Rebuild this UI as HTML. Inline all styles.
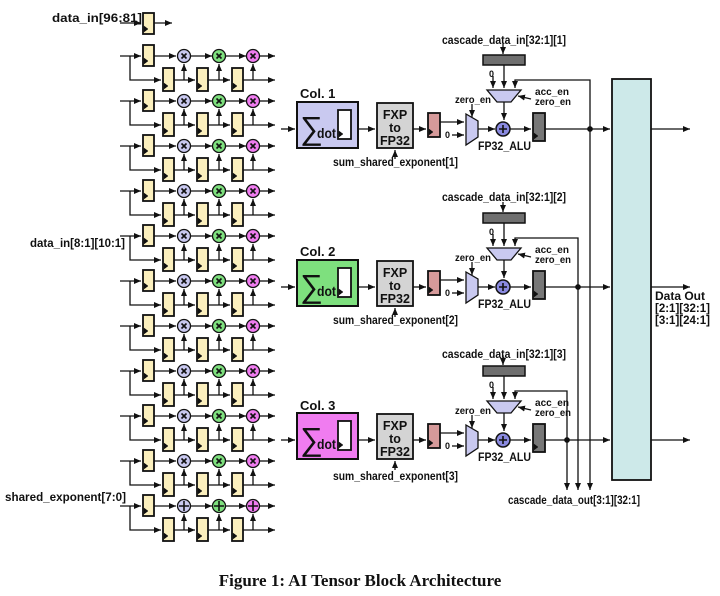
<!DOCTYPE html>
<html><head><meta charset="utf-8"><style>
html,body{margin:0;padding:0;background:#fff;}
svg{display:block;}
text{font-family:"Liberation Sans",sans-serif;fill:#111;}
.l{font-size:11.5px;font-weight:bold;}
.b{font-weight:bold;}
</style></head><body>
<svg id="s" width="720" height="596" viewBox="0 0 720 596" xmlns="http://www.w3.org/2000/svg">
<defs>
<marker id="a" markerWidth="8" markerHeight="8" refX="7" refY="3" orient="auto" markerUnits="userSpaceOnUse"><path d="M0,0 L7,3 L0,6 z" fill="#111"/></marker>
</defs>
<g id="g" stroke="#111" stroke-width="1.3" fill="none"></g>
<text x="52" y="22" class="l" textLength="90" lengthAdjust="spacingAndGlyphs">data_in[96:81]</text>
<text x="30" y="247" class="l" textLength="95" lengthAdjust="spacingAndGlyphs">data_in[8:1][10:1]</text>
<text x="5" y="501" class="l" textLength="121" lengthAdjust="spacingAndGlyphs">shared_exponent[7:0]</text>
<text x="300" y="98" class="b" font-size="13">Col. 1</text>
<text x="300" y="256" class="b" font-size="13">Col. 2</text>
<text x="300" y="410" class="b" font-size="13">Col. 3</text>
<g class="b" font-size="12.5" text-anchor="middle">
<text x="395" y="119">FXP</text><text x="395" y="132">to</text><text x="395" y="145">FP32</text>
<text x="395" y="277">FXP</text><text x="395" y="290">to</text><text x="395" y="303">FP32</text>
<text x="395" y="430">FXP</text><text x="395" y="443">to</text><text x="395" y="456">FP32</text>
</g>
<text x="333" y="166" class="l" textLength="125" lengthAdjust="spacingAndGlyphs">sum_shared_exponent[1]</text>
<text x="333" y="324" class="l" textLength="125" lengthAdjust="spacingAndGlyphs">sum_shared_exponent[2]</text>
<text x="333" y="480" class="l" textLength="125" lengthAdjust="spacingAndGlyphs">sum_shared_exponent[3]</text>
<text x="442" y="44" class="l" textLength="124" lengthAdjust="spacingAndGlyphs">cascade_data_in[32:1][1]</text>
<text x="442" y="201" class="l" textLength="124" lengthAdjust="spacingAndGlyphs">cascade_data_in[32:1][2]</text>
<text x="442" y="358" class="l" textLength="124" lengthAdjust="spacingAndGlyphs">cascade_data_in[32:1][3]</text>
<text x="508" y="504" class="l" textLength="132" lengthAdjust="spacingAndGlyphs">cascade_data_out[3:1][32:1]</text>
<text x="655" y="300" class="b" font-size="12">Data Out</text>
<text x="655" y="312" class="l" font-size="11">[2:1][32:1]</text>
<text x="655" y="324" class="l" font-size="11">[3:1][24:1]</text>
<text x="360" y="586" font-weight="bold" font-size="17" text-anchor="middle" style="font-family:'Liberation Serif',serif">Figure 1: AI Tensor Block Architecture</text>
<g id="t"></g>
</svg>
<script>
var g=document.getElementById('g'),t=document.getElementById('t'),NS='http://www.w3.org/2000/svg';
function el(p,n,a){var e=document.createElementNS(NS,n);for(var k in a)e.setAttribute(k,a[k]);p.appendChild(e);return e;}
function ln(pts,arr){el(g,'polyline',{points:pts,'marker-end':arr?'url(#a)':''});}
function reg(x,y,w,h,f){el(g,'rect',{x:x,y:y,width:w,height:h,fill:f,'stroke-width':1.8});el(g,'path',{d:'M'+(x+1)+','+(y+h-8)+' l4,3 l-4,3z',fill:'#111','stroke-width':0.5});}
function tx(x,y,s,sz,bold,len){var e=el(t,'text',{x:x,y:y,'font-size':sz||10});if(bold)e.setAttribute('font-weight','bold');if(len){e.setAttribute('textLength',len);e.setAttribute('lengthAdjust','spacingAndGlyphs');}e.textContent=s;}
ln('120,23 141,23',1);reg(143,13,11,21,'#fbefbd');ln('154,23 172,23',1);
var cols=['#c9c9f0','#7ee07e','#f07cf0'],cx=[184,219,253],rx=[163,197,232];
for(var i=0;i<11;i++){
 var r=56+45*i,b=r+24,add=(i==10);
 ln('120,'+r+' 141,'+r,1);
 ln('130,'+r+' 130,'+b+' 161,'+b,1);
 reg(143,r-11,11,21,'#fbefbd');
 ln('154,'+r+' 176,'+r,1);
 ln((cx[0]+6)+','+r+' '+(cx[1]-7)+','+r,1);
 ln((cx[1]+6)+','+r+' '+(cx[2]-7)+','+r,1);
 ln((cx[2]+6)+','+r+' 275,'+r,1);
 for(var k=0;k<3;k++){
  reg(rx[k],b-12,11,23,'#fbefbd');
  var nx=(k<2)?rx[k+1]-2:275;
  ln((rx[k]+11)+','+b+' '+nx+','+b,1);
  ln(cx[k]+','+b+' '+cx[k]+','+(r+8),1);
  el(g,'circle',{cx:cx[k],cy:r,r:6.5,fill:cols[k],'stroke-width':1.3});
  if(add){el(g,'path',{d:'M'+(cx[k]-5)+','+r+'h10M'+cx[k]+','+(r-5)+'v10','stroke-width':1.6});}
  else{el(g,'path',{d:'M'+(cx[k]-2.5)+','+(r-2.5)+'l5,5M'+(cx[k]+2.5)+','+(r-2.5)+'l-5,5','stroke-width':1.6});}
 }
}
var C=[129,287,440],fill=['#c9c9f0','#7ee07e','#f07cf0'],fb=[590,578,567];
for(var c=0;c<3;c++){
 var y=C[c];
 ln('281,'+y+' 295,'+y,1);
 el(g,'rect',{x:297,y:y-27,width:61,height:46,fill:fill[c],'stroke-width':2});
 el(g,'rect',{x:338,y:y-19,width:13,height:29,fill:'#fff','stroke-width':1.8});
 el(g,'path',{d:'M339,'+(y+2)+' l4,3 l-4,3z',fill:'#111','stroke-width':0.5});
 tx(300,y+10,'\u2211',32);tx(317,y+9,'dot',14,true,19);
 ln('358,'+y+' 375,'+y,1);
 el(g,'rect',{x:377,y:y-26,width:36,height:45,fill:'#d4d4d4','stroke-width':1.8});
 ln('395,'+(y+30)+' 395,'+(y+21),1);
 ln('413,'+y+' 426,'+y,1);
 reg(428,y-16,12,24,'#d69a9a');
 ln('440,'+(y-7)+' 464,'+(y-7),1);
 ln('452,'+(y+6)+' 464,'+(y+6),1);tx(445,y+9,'0',9,true);
 el(g,'path',{d:'M466,'+(y-15)+' L478,'+(y-8)+' L478,'+(y+8)+' L466,'+(y+16)+' Z',fill:'#c9c9f0','stroke-width':1.3});
 ln('472,'+(y-25)+' 472,'+(y-12),1);tx(455,y-26,'zero_en',10,true,36);
 ln('478,'+y+' 495,'+y,1);
 el(g,'circle',{cx:503,cy:y,r:7,fill:'#8a8ae0','stroke-width':1.5});
 el(g,'path',{d:'M499,'+y+'h8M503,'+(y-4)+'v8','stroke-width':1.6});
 tx(478,y+21,'FP32_ALU',12,true,53);
 ln('510,'+y+' 531,'+y,1);
 reg(533,y-16,12,28,'#777');
 ln('503,'+(y-85)+' 503,'+(y-75),1);
 el(g,'rect',{x:483,y:y-74,width:42,height:10,fill:'#6f6f6f','stroke-width':1.5});
 tx(489,y-52,'0',9,true);
 ln('493,'+(y-53)+' 493,'+(y-41),1);
 ln('504,'+(y-64)+' 504,'+(y-41),1);
 ln(fb[c]+','+(y)+' '+fb[c]+','+(y-49)+' 515,'+(y-49)+' 515,'+(y-41),1);
 el(g,'path',{d:'M487,'+(y-39)+' L521,'+(y-39)+' L511,'+(y-27)+' L497,'+(y-27)+' Z',fill:'#c9c9f0','stroke-width':1.3});
 ln('531,'+(y-30)+' 518,'+(y-33),1);
 tx(535,y-34,'acc_en',10,true,34);tx(535,y-24,'zero_en',10,true,36);
 ln('504,'+(y-27)+' 504,'+(y-9),1);
 ln('545,'+y+' 610,'+y,1);
 el(g,'circle',{cx:fb[c],cy:y,r:2.2,fill:'#111'});
 ln(fb[c]+','+y+' '+fb[c]+','+490,1);
 ln('651,'+y+' 690,'+y,1);
}
el(g,'rect',{x:612,y:79,width:39,height:401,fill:'#cde9e9','stroke-width':1.8});
</script>
</body></html>
